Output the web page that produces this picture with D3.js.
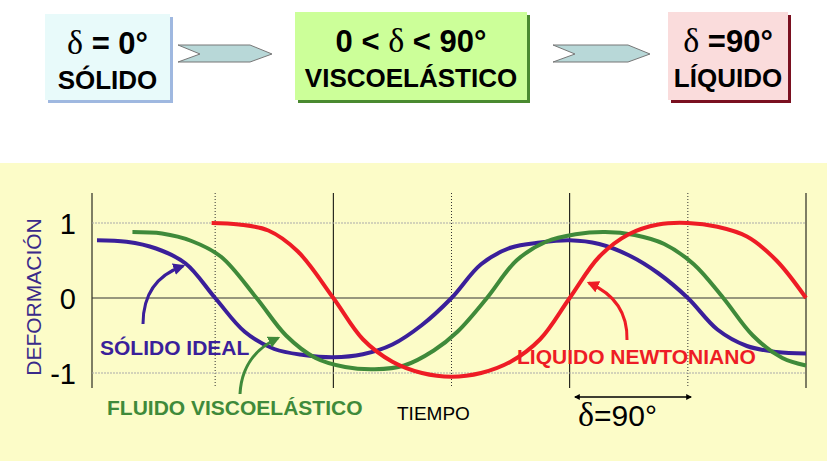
<!DOCTYPE html><html><head><meta charset="utf-8">
<script src="https://cdn.jsdelivr.net/npm/d3@7"></script>
<style>body{margin:0;background:#fff}svg{font-family:"Liberation Sans Narrow","Liberation Sans",Arial,sans-serif}</style></head><body>
<svg id="c" width="827" height="461"></svg>
<script>
const yTicks=[1,0,-1];
const tSolid=[0,0.25,0.5,0.75,1,1.25,1.5,1.75,2,2.25,2.5,2.75,3,3.25,3.5,3.75,4,4.25,4.5,4.75,5,5.25,5.5,5.75,6];
const vSolid=[0.77,0.75,0.66,0.46,0,-0.45,-0.68,-0.76,-0.79,-0.75,-0.62,-0.36,0,0.45,0.67,0.74,0.77,0.72,0.57,0.33,0,-0.42,-0.64,-0.72,-0.74];
const tVisco=[0.3,0.55,0.8,1.05,1.35,1.6,1.85,2.1,2.35,2.6,2.85,3.05,3.3,3.55,3.8,4.05,4.3,4.55,4.8,5.05,5.3,5.55,5.8,6];
const vVisco=[0.88,0.86,0.76,0.55,0,-0.5,-0.8,-0.92,-0.95,-0.9,-0.7,-0.45,0,0.5,0.75,0.85,0.88,0.84,0.72,0.45,0,-0.5,-0.8,-0.9];
const tLiquid=[0.97,1.2,1.45,1.7,2,2.25,2.5,2.75,3,3.25,3.5,3.75,4,4.25,4.5,4.75,5,5.25,5.5,5.75,6];
const vLiquid=[1.0,0.98,0.9,0.62,0,-0.55,-0.85,-1.0,-1.05,-1.0,-0.85,-0.55,0,0.55,0.85,0.98,1.0,0.95,0.82,0.5,0];
const svg=d3.select("#c");
const SERIF='"Liberation Serif","DejaVu Serif",serif';
const boxes=[{x:45,y:14,w:125,h:86,f:"#e8fafa",s:"#9fb8e0",a:"",b:" = 0°",t2:"SÓLIDO"},
 {x:295,y:12,w:232,h:88,f:"#ccff99",s:"#4a8a30",a:"0 < ",b:" < 90°",t2:"VISCOELÁSTICO"},
 {x:668,y:12,w:120,h:88,f:"#fadcdc",s:"#7a1020",a:"",b:" =90°",t2:"LÍQUIDO"}];
boxes.forEach(b=>{
 svg.append("rect").attr("x",b.x+3).attr("y",b.y+3).attr("width",b.w).attr("height",b.h).attr("fill",b.s);
 svg.append("rect").attr("x",b.x).attr("y",b.y).attr("width",b.w).attr("height",b.h).attr("fill",b.f);
 const t=svg.append("text").attr("x",b.x+b.w/2).attr("y",b.y+40).attr("text-anchor","middle").attr("font-size",31).attr("font-weight","bold");
 t.append("tspan").text(b.a);
 t.append("tspan").attr("font-family",SERIF).attr("font-weight","normal").attr("font-size",34).text("δ");
 t.append("tspan").text(b.b);
 svg.append("text").attr("x",b.x+b.w/2).attr("y",b.y+75).attr("text-anchor","middle").attr("font-size",26).attr("font-weight","bold").text(b.t2);
});
[[178,272],[553,650]].forEach(([a,b])=>{
 svg.append("path").attr("d",`M${a},45 L${b-22},45 L${b},54 L${b-22},62 L${a},62 L${a+22},54 Z`).attr("fill","#b8d8d8").attr("stroke","#777").attr("stroke-width",1);
});
svg.append("rect").attr("x",0).attr("y",163).attr("width",827).attr("height",298).attr("fill","#fcfcc8");
const x=d3.scaleLinear().domain([0,6]).range([97,806]);
const y=d3.scaleLinear().domain([-1,1]).range([373,223]);
[1,3,5].forEach(t=>svg.append("line").attr("x1",x(t)).attr("x2",x(t)).attr("y1",193).attr("y2",388).attr("stroke","#333").attr("stroke-dasharray","1,2"));
[2,4,6].forEach(t=>svg.append("line").attr("x1",x(t)).attr("x2",x(t)).attr("y1",193).attr("y2",388).attr("stroke","#000").attr("stroke-width",1));
svg.append("line").attr("x1",92).attr("x2",92).attr("y1",193).attr("y2",388).attr("stroke","#000");
[1,-1].forEach(v=>svg.append("line").attr("x1",92).attr("x2",x(6)).attr("y1",y(v)).attr("y2",y(v)).attr("stroke","#aaa").attr("stroke-dasharray","2,1"));
svg.append("line").attr("x1",92).attr("x2",x(6)).attr("y1",y(0)).attr("y2",y(0)).attr("stroke","#333");
yTicks.forEach(v=>svg.append("text").attr("x",76).attr("y",y(v)+11).attr("text-anchor","end").attr("font-family","Liberation Sans").attr("font-size",29).text(v));
svg.append("text").attr("transform","translate(34,297) rotate(-90)").attr("dy","0.35em").attr("text-anchor","middle").attr("font-family","Liberation Sans").attr("font-size",21).attr("fill","#3a2a8a").text("DEFORMACIÓN");
const line=d3.line().x(d=>x(d[0])).y(d=>y(d[1])).curve(d3.curveCatmullRom);
const series=[[tSolid,vSolid,"#3a1f9a"],[tVisco,vVisco,"#3f8a3a"],[tLiquid,vLiquid,"#ee1c25"]];
series.forEach(([t,v,c])=>svg.append("path").attr("d",line(t.map((d,i)=>[d,v[i]]))).attr("fill","none").attr("stroke",c).attr("stroke-width",4));
const defs=svg.append("defs");
[["p","#3a1f9a"],["g","#3f8a3a"],["r","#ee1c25"],["k","#000"]].forEach(([id,c])=>{
 defs.append("marker").attr("id","m"+id).attr("viewBox","0 0 10 10").attr("refX",8).attr("refY",5).attr("markerWidth",4).attr("markerHeight",4).attr("orient","auto-start-reverse").append("path").attr("d","M0,0L10,5L0,10z").attr("fill",c);});
svg.append("path").attr("d","M143,324 Q143,280 183,266").attr("fill","none").attr("stroke","#3a1f9a").attr("stroke-width",3).attr("marker-end","url(#mp)");
svg.append("path").attr("d","M240,394 Q242,355 278,338").attr("fill","none").attr("stroke","#3f8a3a").attr("stroke-width",3).attr("marker-end","url(#mg)");
svg.append("path").attr("d","M627,340 Q628,300 589,283").attr("fill","none").attr("stroke","#ee1c25").attr("stroke-width",3).attr("marker-end","url(#mr)");
svg.append("line").attr("x1",575).attr("x2",691).attr("y1",397).attr("y2",397).attr("stroke","#000").attr("stroke-width",1.5).attr("marker-start","url(#mk)").attr("marker-end","url(#mk)");
const lab=(t,xx,yy,c,s,w)=>svg.append("text").attr("x",xx).attr("y",yy).attr("fill",c).attr("font-size",s).attr("font-weight",w).text(t);
lab("SÓLIDO IDEAL",100,355,"#3a1f9a",21,"bold");
lab("FLUIDO VISCOELÁSTICO",107,415,"#3f8a3a",21,"bold");
lab("LIQUIDO NEWTONIANO",517,364,"#ee1c25",21,"bold");
lab("TIEMPO",397,420,"#000",19,"normal");
const dl=svg.append("text").attr("x",578).attr("y",426).attr("font-size",30).attr("font-family","Liberation Sans");
dl.append("tspan").attr("font-family",SERIF).attr("font-size",34).text("δ");
dl.append("tspan").text("=90°");
</script></body></html>
